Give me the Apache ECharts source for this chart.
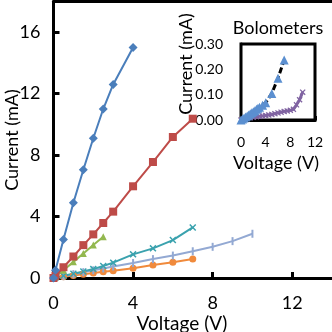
<!DOCTYPE html>
<html>
<head>
<meta charset="utf-8">
<script src="https://cdn.jsdelivr.net/npm/echarts@6/dist/echarts.min.js"></script>
<style>html,body{margin:0;padding:0;background:#fff;}#c{width:332px;height:332px;}</style>
</head>
<body>
<div id="c"></div>
<script>
// Main chart data (Voltage V, Current mA)
var blueX = [0, 0.1, 0.5, 1, 1.5, 2, 2.5, 3, 4];
var blueY = [0, 0.5, 2.5, 4.9, 7.05, 9.1, 11.0, 12.6, 15.0];
var redX = [0, 0.1, 0.5, 1, 1.5, 2, 2.5, 3, 4, 5, 6, 7];
var redY = [0, 0.15, 0.7, 1.4, 2.14, 2.84, 3.58, 4.32, 5.97, 7.55, 9.18, 10.37];
var greenX = [0, 0.1, 0.5, 1, 1.5, 2, 2.5];
var greenY = [0, 0.1, 0.5, 1.05, 1.6, 2.15, 2.68];
var tealX = [0, 0.1, 0.5, 1, 1.5, 2, 2.5, 3, 4, 5, 6, 7];
var tealY = [0, 0.03, 0.15, 0.28, 0.42, 0.58, 0.78, 1.0, 1.54, 1.93, 2.47, 3.29];
var lavX = [0, 0.1, 0.5, 1, 1.5, 2, 2.5, 3, 4, 5, 6, 7, 8, 9, 10];
var lavY = [0, 0.02, 0.12, 0.25, 0.38, 0.5, 0.62, 0.75, 0.98, 1.23, 1.46, 1.74, 2.03, 2.4, 2.88];
var orangeX = [0, 0.1, 0.5, 1, 1.5, 2, 2.5, 3, 4, 5, 6, 7];
var orangeY = [0, 0.01, 0.08, 0.16, 0.24, 0.32, 0.4, 0.47, 0.63, 0.84, 1.02, 1.23];
// Inset (Bolometers)
var bolo1X = [0, 0.25, 0.5, 0.75, 1, 1.25, 1.5, 1.75, 2, 2.25, 2.5, 2.75, 3, 3.5, 4, 5, 6, 7];
var bolo1Y = [0, 0.004, 0.008, 0.012, 0.016, 0.02, 0.025, 0.029, 0.033, 0.037, 0.042, 0.046, 0.05, 0.058, 0.068, 0.105, 0.165, 0.237];
var bolo2X = [0, 0.5, 1, 1.5, 2, 2.5, 3, 3.5, 4, 4.5, 5, 5.5, 6, 6.5, 7, 7.5, 8, 8.5, 9, 9.5, 10];
var bolo2Y = [0, 0.004, 0.007, 0.009, 0.011, 0.013, 0.015, 0.016, 0.018, 0.02, 0.022, 0.025, 0.028, 0.031, 0.034, 0.036, 0.038, 0.042, 0.06, 0.08, 0.11];
// Tick settings
var mainXTicks = {min: 0, max: 14, interval: 4};
var mainYTicks = {min: 0, max: 18, interval: 4};
var insetXTicks = {min: 0, max: 12, interval: 4};
var insetYTicks = {min: 0, max: 0.3, interval: 0.1};

function pairs(xs, ys) { return xs.map(function (x, i) { return [x, ys[i]]; }); }

var FONT = 'Lato';
var X_SYM = 'path://M0,1.5 L1.5,0 L5,3.5 L8.5,0 L10,1.5 L6.5,5 L10,8.5 L8.5,10 L5,6.5 L1.5,10 L0,8.5 L3.5,5 Z';

function axisBase(t, fontSize, margin, inset) {
  return {
    type: 'value', min: t.min, max: t.max, interval: t.interval,
    axisLine: {show: true, onZero: false, lineStyle: {color: '#000', width: 3}},
    axisTick: {show: true, inside: true, length: inset ? 4 : 6, lineStyle: {color: '#000', width: 3}},
    splitLine: {show: false},
    axisLabel: {color: '#000', fontFamily: FONT, fontSize: fontSize, margin: margin, showMaxLabel: true}
  };
}

var mx = axisBase(mainXTicks, 18, 16, false); mx.gridIndex = 0; mx.axisLabel.showMaxLabel = false;
var mxTop = {type: 'value', gridIndex: 0, position: 'top', min: 0, max: 14,
  axisLine: {show: true, onZero: false, lineStyle: {color: '#000', width: 3}},
  axisTick: {show: false}, axisLabel: {show: false}, splitLine: {show: false}};
var my = axisBase(mainYTicks, 18, 13, false); my.gridIndex = 0; my.axisLabel.showMaxLabel = false;
var ix = axisBase(insetXTicks, 14, 15, true); ix.gridIndex = 1;
var iy = axisBase(insetYTicks, 14, 18, true); iy.gridIndex = 1;
iy.axisLabel.formatter = function (v) { return v.toFixed(2); };

function line(name, xs, ys, color, symbol, size, gi, xi) {
  return {
    name: name, type: 'line', xAxisIndex: xi, yAxisIndex: gi,
    data: pairs(xs, ys), symbol: symbol, symbolSize: size,
    showSymbol: true, animation: false, clip: false,
    lineStyle: {color: color, width: 2}, itemStyle: {color: color}
  };
}

var option = {
  animation: false,
  backgroundColor: '#fff',
  grid: [
    {left: 53.5, top: 1.5, right: 0, bottom: 54, show: false},
    {left: 241, top: 44, right: 17, bottom: 212, show: true, borderColor: '#000', borderWidth: 3, backgroundColor: '#fff', z: 5}
  ],
  xAxis: [mx, ix, mxTop],
  yAxis: [my, iy],
  series: [
    line('Orange', orangeX, orangeY, '#F08A3C', 'circle', 7, 0, 0),
    line('Lavender', lavX, lavY, '#93A9D3', 'rect', [2, 8], 0, 0),
    line('Teal', tealX, tealY, '#3AA2AE', X_SYM, 7, 0, 0),
    line('Green', greenX, greenY, '#93B84F', 'triangle', 7, 0, 0),
    line('Red', redX, redY, '#BE4B48', 'rect', 8, 0, 0),
    line('Blue', blueX, blueY, '#4A7EBB', 'diamond', 9, 0, 0),
    (function () {
      var s = line('Bolometer 2', bolo2X, bolo2Y, '#8064A2', X_SYM, 6, 1, 1);
      s.lineStyle.width = 3; s.z = 6; return s;
    })(),
    (function () {
      var s = line('Bolometer 1', bolo1X, bolo1Y, '#5B8FD0', 'triangle', 9, 1, 1);
      s.lineStyle = {color: '#000', width: 3, type: [6, 3]}; s.z = 7; return s;
    })()
  ],
  graphic: [
    {type: 'text', position: [12, 140], rotation: Math.PI / 2, z: 10,
      style: {text: 'Current (mA)', fill: '#000', font: '18px ' + FONT, textAlign: 'center', textVerticalAlign: 'middle'}},
    {type: 'text', position: [182, 324], z: 10,
      style: {text: 'Voltage (V)', fill: '#000', font: '19px ' + FONT, textAlign: 'center', textVerticalAlign: 'middle'}},
    {type: 'text', position: [186, 64], rotation: Math.PI / 2, z: 10,
      style: {text: 'Current (mA)', fill: '#000', font: '18px ' + FONT, textAlign: 'center', textVerticalAlign: 'middle'}},
    {type: 'text', position: [276, 163], z: 10,
      style: {text: 'Voltage (V)', fill: '#000', font: '18px ' + FONT, textAlign: 'center', textVerticalAlign: 'middle'}},
    {type: 'text', position: [278, 28], z: 10,
      style: {text: 'Bolometers', fill: '#000', font: '18px ' + FONT, textAlign: 'center', textVerticalAlign: 'middle'}}
  ]
};

var chart = echarts.init(document.getElementById('c'), null, {renderer: 'canvas'});
chart.setOption(option);
</script>
</body>
</html>
